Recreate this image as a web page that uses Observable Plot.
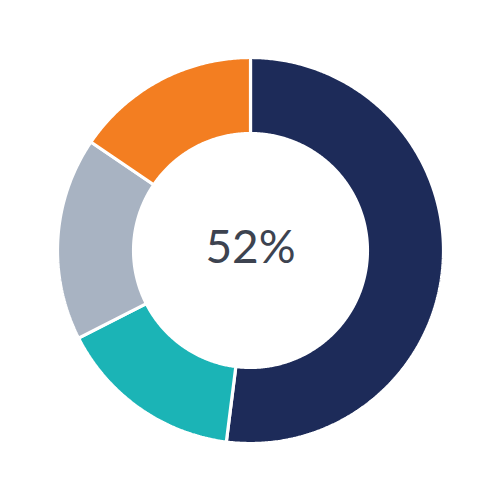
<!DOCTYPE html>
<html>
<head>
<meta charset="utf-8">
<script src="https://cdn.jsdelivr.net/npm/d3@7"></script>
<script src="https://cdn.jsdelivr.net/npm/@observablehq/plot@0.6"></script>
<style>
  html, body { margin: 0; padding: 0; background: #fff; }
  #chart { width: 500px; height: 500px; }
</style>
</head>
<body>
<div id="chart"></div>
<script>
// Data (clockwise from 12 o'clock)
const categories = ["Segment 1", "Segment 2", "Segment 3", "Segment 4"];
const values = [52, 15.5, 17, 15.5];
const colors = ["#1d2b59", "#1bb4b6", "#a8b3c2", "#f37e21"];
const centerLabel = "52%";

// Donut geometry (in scale units; outer radius = 1)
const innerR = 0.606;
const total = d3.sum(values);
const slices = [];
let acc = 0;
categories.forEach((c, i) => {
  const a0 = acc / total * 2 * Math.PI;
  acc += values[i];
  const a1 = acc / total * 2 * Math.PI;
  const n = Math.max(8, Math.ceil((a1 - a0) / (Math.PI / 360)));
  const pts = [];
  for (let k = 0; k <= n; k++) {
    const a = a0 + (a1 - a0) * k / n;
    pts.push({cat: c, x: Math.sin(a), y: Math.cos(a)});
  }
  for (let k = n; k >= 0; k--) {
    const a = a0 + (a1 - a0) * k / n;
    pts.push({cat: c, x: innerR * Math.sin(a), y: innerR * Math.cos(a)});
  }
  pts.push({...pts[0]});
  slices.push(...pts);
});

const chart = Plot.plot({
  width: 500,
  height: 500,
  marginTop: 57, marginBottom: 57, marginLeft: 57, marginRight: 57,
  x: {domain: [-1, 1], axis: null},
  y: {domain: [-1, 1], axis: null},
  color: {type: "ordinal", domain: categories, range: colors},
  marks: [
    Plot.line(slices, {x: "x", y: "y", z: "cat", fill: "cat", stroke: "white", strokeWidth: 3.2, strokeLinejoin: "miter"}),
    Plot.text([centerLabel], {x: 0, y: 0, text: d => d, fontSize: 46, fontFamily: "Lato", fontWeight: 400, fill: "#3d4350", dy: -2})
  ]
});
document.getElementById("chart").appendChild(chart);
</script>
</body>
</html>
